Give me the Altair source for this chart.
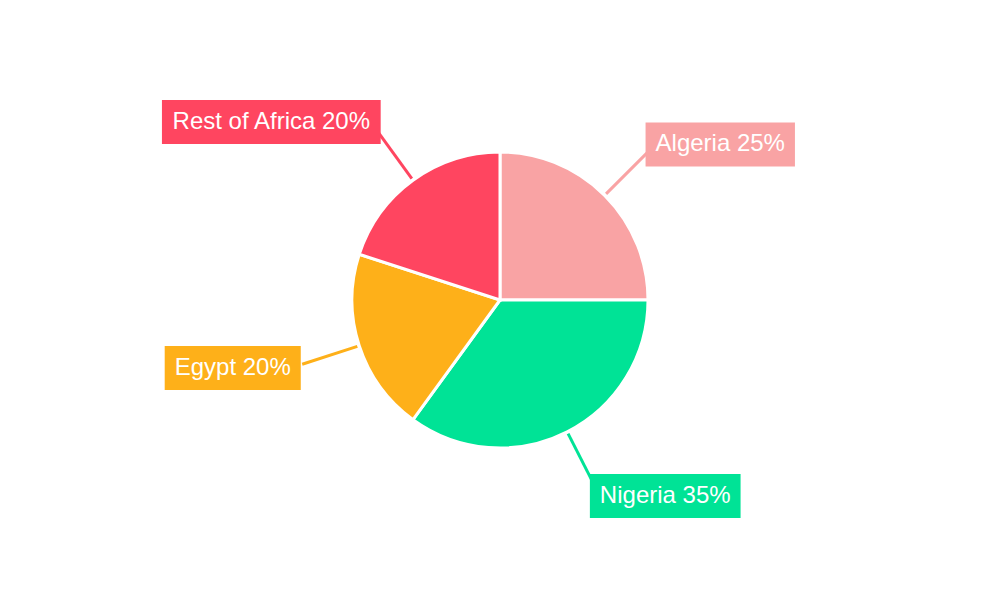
import altair as alt
import pandas as pd

countries = ["Algeria", "Nigeria", "Egypt", "Rest of Africa"]
shares = [25, 35, 20, 20]
colors = ["#F9A3A4", "#00E396", "#FEB019", "#FF4560"]

# rough Liberation Sans / Arial advance widths (per 1000 em), default 556
NARROW = {"i": 222, "l": 222, "j": 222, "f": 278, "t": 278, " ": 278, "r": 333}
WIDE = {"A": 667, "E": 667, "R": 722, "N": 722, "%": 889, "s": 500, "c": 500, "y": 500}


def text_width(s, size=24):
    return sum(NARROW.get(ch, WIDE.get(ch, 556)) for ch in s) * size / 1000


df = pd.DataFrame({"country": countries, "share": shares, "order": range(len(countries))})
df["label"] = df["country"] + " " + df["share"].astype(str) + "%"
df["tw"] = df["label"].map(text_width)

W, H = 984, 584
x_scale = alt.Scale(domain=[-W / 2, W / 2])
y_scale = alt.Scale(domain=[-H / 2, H / 2])
color = alt.Color("country:N", scale=alt.Scale(domain=countries, range=colors), legend=None)

# mid angle of each slice -> leader line and label box positions
base = (
    alt.Chart(df)
    .transform_joinaggregate(total="sum(share)")
    .transform_window(cum="sum(share)", sort=[alt.SortField("order")], frame=[None, 0])
    .transform_calculate(
        mid="(datum.cum - datum.share / 2) / datum.total * 2 * PI",
        sx="sin(datum.mid)",
        sy="cos(datum.mid)",
        side="datum.sx >= 0 ? 1 : -1",
        x1="150 * datum.sx",
        y1="150 * datum.sy",
        x2="208 * datum.sx",
        y2="208 * datum.sy",
        lx="220 * datum.sx",
        ly="220 * datum.sy",
        bx1="datum.lx - datum.side * 10",
        bx2="datum.lx + datum.side * (datum.tw + 10)",
        by1="datum.ly - 22",
        by2="datum.ly + 22",
        tx="(datum.bx1 + datum.bx2) / 2",
    )
)

pie = (
    alt.Chart(df)
    .mark_arc(outerRadius=148, stroke="white", strokeWidth=3)
    .encode(
        theta=alt.Theta("share:Q", stack=True),
        color=color,
        order=alt.Order("order:Q"),
    )
)

leaders = base.mark_rule(strokeWidth=3).encode(
    x=alt.X("x1:Q", scale=x_scale, axis=None),
    y=alt.Y("y1:Q", scale=y_scale, axis=None),
    x2="x2:Q",
    y2="y2:Q",
    color=color,
)

boxes = base.mark_rect().encode(
    x=alt.X("bx1:Q", scale=x_scale, axis=None),
    x2="bx2:Q",
    y=alt.Y("by1:Q", scale=y_scale, axis=None),
    y2="by2:Q",
    color=color,
)

labels = base.mark_text(
    font="Liberation Sans", fontSize=24, color="white", align="center", baseline="middle"
).encode(
    x=alt.X("tx:Q", scale=x_scale, axis=None),
    y=alt.Y("ly:Q", scale=y_scale, axis=None),
    text="label:N",
)

chart = (
    alt.layer(leaders, pie, boxes, labels)
    .properties(width=W, height=H, padding=0, autosize=alt.AutoSizeParams(type="none"))
    .configure_view(strokeWidth=0)
)

chart.save("out.html", embed_options={"renderer": "svg", "actions": False})
